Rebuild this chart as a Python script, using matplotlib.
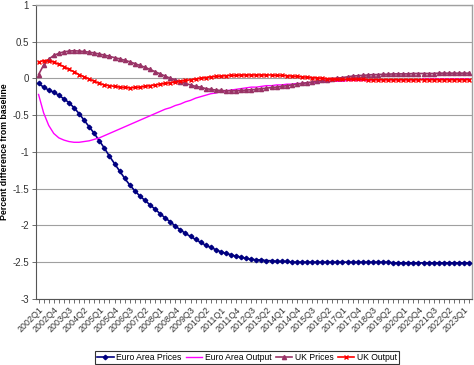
import matplotlib
matplotlib.use("Agg")
import matplotlib.pyplot as plt
import numpy as np

plt.rcParams['font.family'] = ['Liberation Sans', 'DejaVu Sans']

quarters = [f"{y}Q{q}" for y in range(2002, 2024) for q in range(1, 5)][:86]

ea_prices = [-0.07, -0.12, -0.16, -0.19, -0.23, -0.28, -0.33, -0.40, -0.48, -0.57,
             -0.66, -0.75, -0.85, -0.95, -1.06, -1.16, -1.26, -1.36, -1.45, -1.53,
             -1.60, -1.66, -1.72, -1.78, -1.84, -1.90, -1.95, -2.01, -2.06, -2.11,
             -2.15, -2.19, -2.23, -2.27, -2.30, -2.33, -2.36, -2.38, -2.40, -2.42,
             -2.43, -2.45, -2.46, -2.47, -2.47, -2.48, -2.48, -2.49, -2.49, -2.49,
             -2.50, -2.50, -2.50, -2.50, -2.50, -2.50, -2.50, -2.50, -2.50, -2.50,
             -2.50, -2.50, -2.50, -2.50, -2.50, -2.50, -2.50, -2.50, -2.50, -2.50,
             -2.51, -2.51, -2.51, -2.51, -2.51, -2.51, -2.51, -2.51, -2.51, -2.51,
             -2.51, -2.51, -2.51, -2.51, -2.51, -2.51]

ea_output = [-0.22, -0.47, -0.64, -0.75, -0.81, -0.84, -0.86, -0.87, -0.87, -0.86,
             -0.85, -0.83, -0.81, -0.78, -0.75, -0.72, -0.69, -0.66, -0.63, -0.60,
             -0.57, -0.54, -0.51, -0.48, -0.45, -0.42, -0.40, -0.37, -0.35, -0.32,
             -0.30, -0.27, -0.25, -0.23, -0.21, -0.20, -0.18, -0.17, -0.16, -0.15,
             -0.14, -0.13, -0.12, -0.12, -0.11, -0.10, -0.10, -0.09, -0.09, -0.08,
             -0.08, -0.07, -0.07, -0.06, -0.06, -0.05, -0.05, -0.05, -0.04, -0.04,
             -0.04, -0.03, -0.03, -0.03, -0.03, -0.03, -0.02, -0.02, -0.02, -0.02,
             -0.02, -0.02, -0.02, -0.02, -0.02, -0.02, -0.01, -0.01, -0.01, -0.01,
             -0.01, -0.01, -0.01, -0.01, -0.01, -0.01]

uk_prices = [0.05, 0.18, 0.26, 0.31, 0.34, 0.36, 0.37, 0.375, 0.37, 0.365,
             0.355, 0.345, 0.33, 0.315, 0.30, 0.28, 0.265, 0.245, 0.225, 0.20,
             0.175, 0.15, 0.12, 0.09, 0.06, 0.03, 0.00, -0.02, -0.05, -0.07,
             -0.09, -0.11, -0.12, -0.14, -0.15, -0.16, -0.165, -0.17, -0.17, -0.17,
             -0.165, -0.16, -0.155, -0.15, -0.14, -0.135, -0.125, -0.12, -0.11, -0.10,
             -0.09, -0.08, -0.07, -0.06, -0.05, -0.04, -0.03, -0.02, -0.01, 0.00,
             0.01, 0.02, 0.03, 0.035, 0.04, 0.045, 0.05, 0.05, 0.055, 0.055,
             0.06, 0.06, 0.06, 0.06, 0.065, 0.065, 0.065, 0.065, 0.065, 0.07,
             0.07, 0.07, 0.07, 0.07, 0.07, 0.07]

uk_output = [0.22, 0.24, 0.24, 0.22, 0.19, 0.16, 0.12, 0.09, 0.05, 0.02,
             -0.01, -0.04, -0.07, -0.09, -0.10, -0.11, -0.12, -0.125, -0.13, -0.125,
             -0.12, -0.11, -0.10, -0.09, -0.08, -0.07, -0.06, -0.05, -0.04, -0.03,
             -0.02, -0.01, 0.00, 0.01, 0.02, 0.025, 0.03, 0.035, 0.04, 0.04,
             0.045, 0.045, 0.045, 0.045, 0.045, 0.045, 0.045, 0.04, 0.04, 0.035,
             0.03, 0.025, 0.02, 0.015, 0.01, 0.005, 0.00, -0.005, -0.01, -0.015,
             -0.015, -0.015, -0.015, -0.015, -0.015, -0.02, -0.02, -0.02, -0.02, -0.02,
             -0.02, -0.02, -0.02, -0.02, -0.02, -0.02, -0.02, -0.02, -0.02, -0.02,
             -0.02, -0.02, -0.02, -0.02, -0.02, -0.02]

fig = plt.figure(figsize=(4.74, 3.65), dpi=100)
ax = fig.add_axes([0.076, 0.181, 0.919, 0.806])

x = np.arange(len(quarters))
ax.plot(x, ea_prices, color='#000080', lw=1.2, marker='D', ms=2.3, label='Euro Area Prices', zorder=3)
ax.plot(x, ea_output, color='#FF00FF', lw=1.0, label='Euro Area Output', zorder=3)
ax.plot(x, uk_prices, color='#993366', lw=1.2, marker='^', ms=3.0, label='UK Prices', zorder=3)
ax.plot(x, uk_output, color='#FF0000', lw=1.2, marker='x', ms=3.0, mew=1.0, label='UK Output', zorder=3)

ax.set_xlim(-0.5, len(quarters) - 0.5)
ax.set_ylim(-3, 1)
ax.set_yticks(np.arange(-3, 1.01, 0.5))
ax.set_yticklabels(['-3', '-2.5', '-2', '-1.5', '-1', '-0.5', '0', '0.5', '1'], fontsize=7, color='#333333')
ax.yaxis.grid(True, color='#A0A0A0', lw=0.8)
ax.set_axisbelow(True)

ax.set_xticks(x)
ax.set_xticklabels([q if i % 3 == 0 else '' for i, q in enumerate(quarters)],
                   rotation=45, ha='right', rotation_mode='anchor', fontsize=6.4, color='#333333')
ax.tick_params(axis='x', length=3, width=0.6, color='#555555', pad=1.5)
ax.tick_params(axis='y', length=3, width=0.6, color='#555555', pad=2)

for side in ['top', 'right']:
    ax.spines[side].set_color('#A0A0A0')
    ax.spines[side].set_linewidth(1.0)
for side in ['left', 'bottom']:
    ax.spines[side].set_color('#555555')
    ax.spines[side].set_linewidth(0.8)

ax.set_ylabel('Percent difference from baseline', fontsize=6.3, fontweight='bold')
ax.yaxis.set_label_coords(-0.063, 0.5)

leg = fig.legend(loc='lower center', bbox_to_anchor=(0.521, 0.0), ncol=4, fontsize=6.2,
                 frameon=True, fancybox=False, edgecolor='black', handlelength=1.9,
                 handletextpad=0.3, columnspacing=0.5, borderpad=0.25, borderaxespad=0.1)
leg.get_frame().set_linewidth(0.8)

fig.savefig('out.png', dpi=100)
